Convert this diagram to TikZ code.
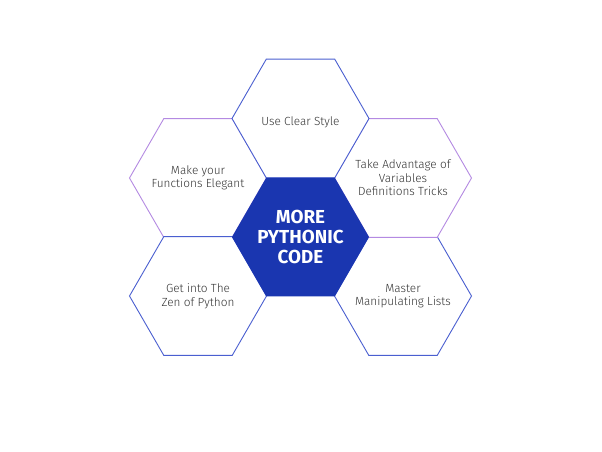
\documentclass[tikz,border=0pt]{standalone}
\usepackage{fontspec}
\setmainfont{Fira Sans}[UprightFont=* Light, BoldFont=* Bold]
\usetikzlibrary{shapes.geometric}
\definecolor{hexblue}{HTML}{4A5FD0}
\definecolor{hexpurple}{HTML}{B48AE2}
\definecolor{corefill}{HTML}{1A36B0}
\definecolor{txtgray}{HTML}{333333}
\begin{document}
\begin{tikzpicture}[x=1pt, y=-1pt]
	\tikzstyle{hex} = [regular polygon, regular polygon sides=6, minimum size=137pt, inner sep=0pt, line width=0.9pt, fill=white]
	\tikzstyle{hexb} = [hex, draw=hexblue]
	\tikzstyle{hexp} = [hex, draw=hexpurple]
	\tikzstyle{txt} = [align=center, text=txtgray, inner sep=0pt, font=\fontsize{11.8}{13.6}\selectfont]
	\useasboundingbox (0,0) rectangle (602,451);
	\node [hexp] (h1) at (198, 178) {};
	\node [hexb] (h2) at (198, 296) {};
	\node [hexb] (h3) at (403, 296) {};
	\node [hexp] (h4) at (403, 178) {};
	\node [hexb] (h5) at (300.5, 118.5) {};
	\node [hex, fill=corefill] (h0) at (300.5, 237) {};
	\node [txt] (t1) at (h1.center) {Make your\\Functions Elegant};
	\node [txt] (t2) at (h2.center) {Get into The\\Zen of Python};
	\node [txt] (t3) at (h3.center) {Master\\Manipulating Lists};
	\node [txt] (t4) at (h4.center) {Take Advantage of\\Variables\\Definitions Tricks};
	\node [txt, yshift=-4pt] (t5) at (h5.center) {Use Clear Style};
	\node [txt, text=white, font=\fontsize{18.8}{20.2}\selectfont\bfseries] (t0) at (h0.center) {MORE\\PYTHONIC\\CODE};
\end{tikzpicture}
\end{document}
